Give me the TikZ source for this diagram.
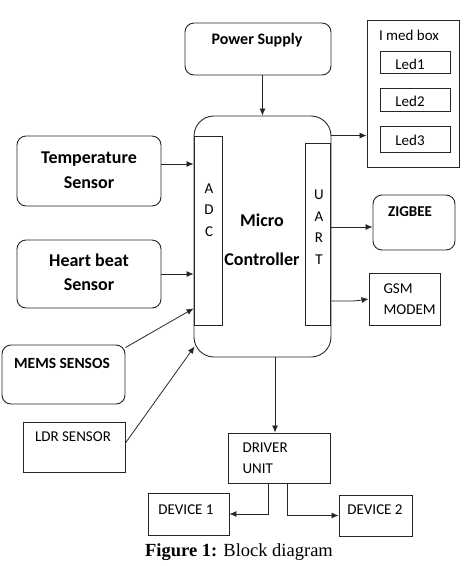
\documentclass[tikz,border=0pt]{standalone}
\usepackage{fontspec}
\setmainfont{Carlito}
\newfontfamily\capfont{Liberation Serif}
\usetikzlibrary{arrows.meta}
\begin{document}
\begin{tikzpicture}[x=1pt,y=-1pt,
  box/.style={draw=black!85,line width=0.9pt,inner sep=0pt},
  rbox/.style={box,rounded corners=9pt},
  rt/.style={font=\fontsize{15}{18}\selectfont},
  arr/.style={draw=black!85,line width=0.8pt,-{Latex[length=7pt,width=6pt]}},
  ln/.style={draw=black!85,line width=0.8pt}]
\useasboundingbox (0,0) rectangle (474,566);
% power supply
\node[rbox,minimum width=146pt,minimum height=52pt] (ps) at (258,49) {};
\node[font=\fontsize{16}{19}\selectfont\bfseries] (pst) at (257,40) {Power Supply};
% micro controller
\node[box,rounded corners=20pt,minimum width=137pt,minimum height=241pt] (mc) at (262.5,236.5) {};
\node[box,minimum width=28pt,minimum height=189pt] (adc) at (208,230.5) {};
\node[box,minimum width=25pt,minimum height=182pt] (uart) at (317.5,234) {};
\node[align=center,font=\fontsize{15}{21.5}\selectfont] (adct) at (209,210) {A\\D\\C};
\node[align=center,font=\fontsize{15}{21.5}\selectfont] (uartt) at (319,227) {U\\A\\R\\T};
\node[align=center,font=\fontsize{18}{39}\selectfont\bfseries] (mct) at (262,240) {Micro\\Controller};
% imed box
\node[box,minimum width=92pt,minimum height=147pt] (imed) at (413,93.5) {};
\node[rt] (imedt) at (409,35) {I med box};
\node[box,minimum width=70pt,minimum height=22pt] (l1) at (415,62) {};
\node[rt] (l1t) at (410,64) {Led1};
\node[box,minimum width=70pt,minimum height=23pt] (l2) at (415,99.5) {};
\node[rt] (l2t) at (410,101) {Led2};
\node[box,minimum width=70pt,minimum height=26pt] (l3) at (415,139) {};
\node[rt] (l3t) at (410,140) {Led3};
% sensors
\node[rbox,minimum width=144pt,minimum height=70pt] (ts) at (89,171) {};
\node[align=center,font=\fontsize{18}{25}\selectfont\bfseries] (tst) at (89,170) {Temperature\\Sensor};
\node[rbox,minimum width=144pt,minimum height=68pt] (hb) at (89,274) {};
\node[align=center,font=\fontsize{18}{24}\selectfont\bfseries] (hbt) at (89,272) {Heart beat\\Sensor};
\node[rbox,minimum width=123pt,minimum height=59pt] (mems) at (63.5,374.5) {};
\node[font=\fontsize{15.5}{18}\selectfont\bfseries] (memst) at (62,363) {MEMS SENSOS};
\node[box,minimum width=102pt,minimum height=50pt] (ldr) at (74,447) {};
\node[rt] (ldrt) at (73,437) {LDR SENSOR};
% outputs
\node[rbox,minimum width=82pt,minimum height=55pt] (zig) at (414,222.5) {};
\node[font=\fontsize{15}{18}\selectfont\bfseries] (zigt) at (410,212) {ZIGBEE};
\node[box,minimum width=71pt,minimum height=52pt] (gsm) at (404.5,299) {};
\node[align=left,anchor=west,font=\fontsize{15}{21}\selectfont] (gsmt) at (380,299.5) {GSM\\MODEM};
\node[box,minimum width=102pt,minimum height=50pt] (drv) at (279,458) {};
\node[align=left,anchor=west,font=\fontsize{15}{21}\selectfont] (drvt) at (239,458.5) {DRIVER\\UNIT};
\node[box,minimum width=81pt,minimum height=42pt] (d1) at (188.5,514) {};
\node[rt] (d1t) at (186,510) {DEVICE 1};
\node[box,minimum width=73pt,minimum height=41pt] (d2) at (375.5,515.5) {};
\node[rt] (d2t) at (375,510) {DEVICE 2};
% caption
\node[font=\capfont\fontsize{18.5}{22}\selectfont] (cap) at (239,552) {\textbf{Figure 1:} Block diagram};
% connectors
\draw[arr] (mc.north |- ps.south) -- (mc.north);
\draw[arr] ([yshift=7pt]ts.east) -- ([yshift=7pt]ts.east -| adc.west);
\draw[arr] (hb.east) -- (hb.east -| adc.west);
\draw[arr] ([yshift=-3pt]mems.north east) -- ([yshift=17pt]adc.south west);
\draw[arr] ([yshift=4pt]ldr.east) -- ([xshift=1pt,yshift=11pt]mc.south west);
\coordinate (p1) at ([yshift=-20pt]mc.north east);
\draw[arr] (p1) -- (p1 -| imed.west);
\coordinate (p2) at ([yshift=-4.5pt]zig.west);
\draw[arr] (p2 -| mc.east) -- (p2);
\path (mc.east |- gsm.west) ++(0,2) coordinate (p3);
\draw[arr,rounded corners=4pt] (p3) -- ++(24,0) -- (gsm.west);
\coordinate (p4) at ([xshift=12.5pt]mc.south);
\draw[arr] (p4) -- (p4 |- drv.north);
\coordinate (q1) at ([xshift=-11pt]drv.south);
\draw[arr] (q1) |- (d1.east);
\coordinate (q2) at ([xshift=8pt]drv.south);
\draw[arr] (q2) |- (d2.west);
\end{tikzpicture}
\end{document}
